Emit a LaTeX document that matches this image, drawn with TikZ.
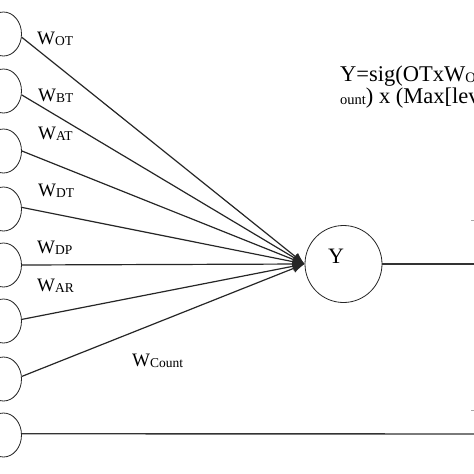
\documentclass[tikz,border=0pt]{standalone}
\usepackage{fontspec}
\setmainfont{Liberation Serif}
\usetikzlibrary{shapes.geometric,arrows.meta}
\newcommand{\subf}[2][13.5]{\raisebox{-1.5pt}{\fontsize{#1}{#1}\selectfont #2}}
\begin{document}
\begin{tikzpicture}[x=1pt,y=-1pt,
  inp/.style={ellipse,draw=black!85,line width=0.8pt,minimum width=36pt,minimum height=44pt,inner sep=0pt},
  outn/.style={circle,draw=black!85,line width=0.8pt,minimum size=77pt,inner sep=0pt},
  conn/.style={draw=black!85,line width=1.2pt,-{Latex[length=12pt,width=9pt]}},
  plain/.style={draw=black!80,line width=1.4pt},
  wlab/.style={anchor=base west,inner sep=0pt,font=\fontsize{19}{20}\selectfont}]
\useasboundingbox (0,0) rectangle (474,474);
\clip (0,0) rectangle (474,474);
\fill[white] (0,0) rectangle (474,474);
% input units
\node[inp] (c1) at (3.5,34) {};
\node[inp] (c2) at (3.5,91) {};
\node[inp] (c3) at (3.5,151) {};
\node[inp] (c4) at (3.5,209) {};
\node[inp] (c5) at (3.5,265) {};
\node[inp] (c6) at (3.5,321) {};
\node[inp] (c7) at (3.5,379) {};
\node[inp] (c8) at (3.5,435) {};
% output unit
\node[outn] (y) at (343.5,264) {};
\node[inner sep=0pt,font=\fontsize{22}{22}\selectfont] (ylab) at (336,256) {Y};
% connectors
\draw[conn] (c1.-10) -- (y.west);
\draw[conn] (c2.-12) -- (y.west);
\draw[conn] (c3.east) -- (y.west);
\draw[conn] (c4.5) -- (y.west);
\draw[conn] (c5.east) -- (y.west);
\draw[conn] (c6.5) -- (y.west);
\draw[conn] (c7.8) -- (y.west);
\coordinate (yout) at (474,264);
\coordinate (bout) at (474,434);
\draw[plain] (y.east) -- (yout);
\draw[plain] (c8.4) -- (bout);
% tiny cut-off marks at the right edge
\draw[gray!70,line width=1pt] (471,220) -- (474,220);
\draw[gray!70,line width=1pt] (471,410) -- (474,410);
% weight labels
\node[wlab] (wot) at (37,44) {W\subf{OT}};
\node[wlab] (wbt) at (38,101) {W\subf{BT}};
\node[wlab] (wat) at (38,139) {W\subf{AT}};
\node[wlab] (wdt) at (38,196) {W\subf{DT}};
\node[wlab] (wdp) at (37,253) {W\subf{DP}};
\node[wlab] (war) at (37,291) {W\subf{AR}};
\node[wlab] (wcount) at (132,366) {W\subf{Count}};
% formula (cut off at the right edge, as in the reference)
\node[anchor=base west,inner sep=0pt,font=\fontsize{22.5}{24}\selectfont] (f1) at (340,81) {Y=sig(OTxW\subf[14.5]{OT}};
\node[anchor=base west,inner sep=0pt,font=\fontsize{22.5}{24}\selectfont] (f2) at (340,103) {\subf[14.5]{ount}) x (Max[lev};
\end{tikzpicture}
\end{document}
